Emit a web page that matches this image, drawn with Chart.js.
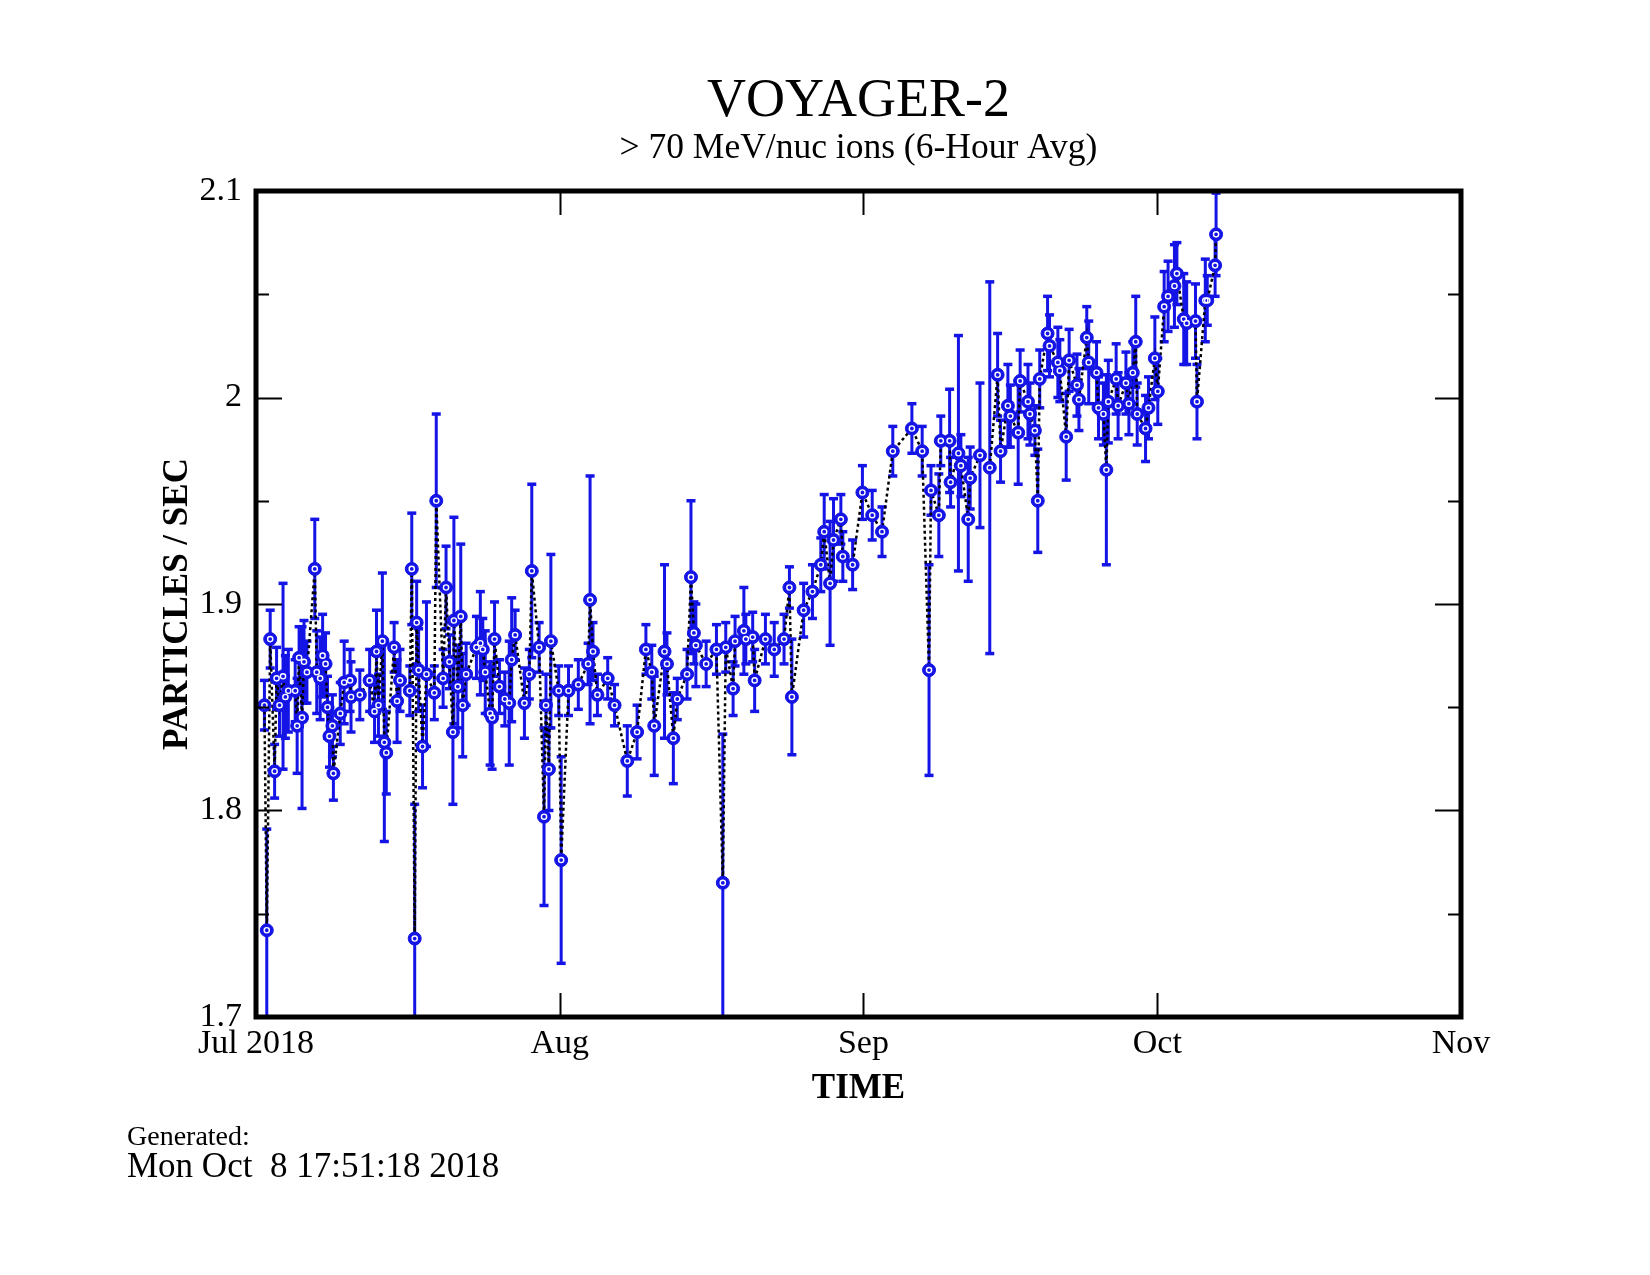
<!DOCTYPE html>
<html>
<head>
<meta charset="utf-8">
<title>VOYAGER-2</title>
<script src="https://cdn.jsdelivr.net/npm/chart.js@4.4.0/dist/chart.umd.min.js"></script>
<style>
    html, body { margin: 0; padding: 0; background: #fff; }
    #wrap { width: 1650px; height: 1275px; }
</style>
</head>
<body>
<div id="wrap"><canvas id="voyagerChart" width="1650" height="1275"></canvas></div>
<script>
// Days since Jul 1 2018 for each 6-hour average
const days = [
    0.86, 1.1, 1.45, 1.9, 2.1, 2.4, 2.76, 3.0, 3.3, 4.0,
    4.2, 4.4, 4.7, 4.9, 5.2, 6.0, 6.2, 6.55, 6.8, 7.1,
    7.3, 7.5, 7.8, 7.9, 8.6, 9.0, 9.6, 9.7, 10.6, 11.6,
    12.1, 12.3, 12.5, 12.9, 13.1, 13.3, 14.1, 14.4, 14.7, 15.7,
    15.9, 16.2, 16.4, 16.6, 17.0, 17.4, 18.2, 18.4, 19.1, 19.4,
    19.75, 20.1, 20.2, 20.6, 20.9, 21.1, 21.45, 22.5, 22.9, 23.15,
    23.4, 23.9, 24.1, 24.35, 24.85, 25.4, 25.85, 26.1, 26.45, 27.4,
    27.9, 28.15, 28.9, 29.4, 29.6, 29.9, 30.1, 30.9, 31.15, 31.9,
    32.9, 33.9, 34.1, 34.4, 34.85, 35.9, 36.6, 37.9, 38.9, 39.8,
    40.4, 40.65, 41.7, 41.95, 42.6, 43.0, 44.0, 44.4, 44.7, 44.9,
    45.95, 47.0, 47.65, 47.95, 48.7, 48.9, 49.8, 50.0, 50.7, 50.9,
    52.0, 52.9, 53.9, 54.45, 54.7, 55.9, 56.8, 57.65, 58.0, 58.6,
    58.95, 59.7, 59.9, 60.9, 61.9, 62.9, 63.9, 65.0, 66.95, 68.0,
    68.7, 68.9, 69.7, 69.9, 70.8, 70.9, 71.7, 71.95, 72.7, 72.9,
    73.9, 74.9, 75.7, 76.0, 76.75, 77.0, 77.8, 78.0, 78.8, 79.0,
    79.5, 79.8, 80.0, 80.8, 81.0, 81.85, 82.05, 82.7, 83.0, 83.8,
    84.0, 84.8, 85.0, 85.8, 86.0, 86.5, 86.8, 87.0, 87.8, 88.0,
    88.8, 89.1, 89.5, 89.8, 89.95, 90.8, 91.1, 91.75, 92.05, 92.7,
    93.1, 93.75, 94.0, 94.7, 95.0, 95.9, 96.05, 96.9, 97.1, 97.9,
    98.0
];

// Count rate (particles / sec)
const rates = [
    1.851, 1.742, 1.883, 1.819, 1.864, 1.851, 1.865, 1.855, 1.858, 1.858,
    1.841, 1.874, 1.845, 1.872, 1.867, 1.917, 1.867, 1.864, 1.875, 1.871,
    1.850, 1.836, 1.841, 1.818, 1.847, 1.862, 1.863, 1.855, 1.856, 1.863,
    1.848, 1.877, 1.851, 1.882, 1.833, 1.828, 1.879, 1.853, 1.863, 1.858,
    1.917, 1.738, 1.891, 1.868, 1.831, 1.866, 1.857, 1.950, 1.864, 1.908,
    1.872, 1.838, 1.892, 1.860, 1.894, 1.851, 1.866, 1.879, 1.881, 1.878,
    1.867, 1.847, 1.845, 1.883, 1.860, 1.854, 1.852, 1.873, 1.885, 1.852,
    1.866, 1.916, 1.879, 1.797, 1.851, 1.820, 1.882, 1.858, 1.776, 1.858,
    1.861, 1.871, 1.902, 1.877, 1.856, 1.864, 1.851, 1.824, 1.838, 1.878,
    1.867, 1.841, 1.877, 1.871, 1.835, 1.854, 1.866, 1.913, 1.886, 1.880,
    1.871, 1.878, 1.765, 1.879, 1.859, 1.882, 1.887, 1.883, 1.884, 1.863,
    1.883, 1.878, 1.883, 1.908, 1.855, 1.897, 1.906, 1.919, 1.935, 1.910,
    1.931, 1.941, 1.923, 1.919, 1.954, 1.943, 1.935, 1.974, 1.985, 1.974,
    1.868, 1.955, 1.943, 1.979, 1.979, 1.959, 1.973, 1.967, 1.941, 1.961,
    1.972, 1.966, 2.011, 1.974, 1.996, 1.991, 1.983, 2.008, 1.998, 1.992,
    1.984, 1.950, 2.009, 2.031, 2.025, 2.017, 2.013, 1.981, 2.018, 2.006,
    1.999, 2.029, 2.017, 2.012, 1.995, 1.992, 1.965, 1.998, 2.009, 1.996,
    2.007, 1.997, 2.012, 2.027, 1.992, 1.985, 1.995, 2.019, 2.003, 2.044,
    2.049, 2.054, 2.060, 2.038, 2.036, 2.037, 1.998, 2.047, 2.047, 2.064,
    2.079
];

// Half-length of each error bar
const errors = [
    0.012, 0.049, 0.014, 0.013, 0.015, 0.015, 0.045, 0.020, 0.020, 0.015,
    0.023, 0.015, 0.044, 0.020, 0.015, 0.024, 0.020, 0.020, 0.020, 0.015,
    0.015, 0.015, 0.015, 0.013, 0.015, 0.020, 0.015, 0.017, 0.012, 0.015,
    0.015, 0.020, 0.015, 0.033, 0.048, 0.020, 0.012, 0.020, 0.015, 0.012,
    0.027, 0.065, 0.020, 0.020, 0.020, 0.035, 0.013, 0.042, 0.014, 0.020,
    0.013, 0.035, 0.050, 0.020, 0.035, 0.025, 0.015, 0.015, 0.025, 0.015,
    0.020, 0.025, 0.025, 0.018, 0.013, 0.013, 0.030, 0.030, 0.012, 0.017,
    0.012, 0.042, 0.012, 0.043, 0.015, 0.020, 0.042, 0.012, 0.050, 0.012,
    0.012, 0.010, 0.060, 0.014, 0.010, 0.010, 0.010, 0.017, 0.013, 0.012,
    0.013, 0.024, 0.042, 0.015, 0.022, 0.010, 0.012, 0.037, 0.015, 0.020,
    0.011, 0.012, 0.072, 0.012, 0.013, 0.012, 0.021, 0.012, 0.012, 0.015,
    0.012, 0.013, 0.012, 0.010, 0.028, 0.013, 0.013, 0.013, 0.018, 0.030,
    0.020, 0.012, 0.012, 0.012, 0.013, 0.012, 0.012, 0.012, 0.012, 0.012,
    0.051, 0.012, 0.020, 0.012, 0.025, 0.012, 0.057, 0.015, 0.030, 0.015,
    0.035, 0.090, 0.020, 0.015, 0.020, 0.015, 0.025, 0.015, 0.018, 0.015,
    0.012, 0.025, 0.014, 0.018, 0.015, 0.017, 0.015, 0.021, 0.015, 0.015,
    0.015, 0.015, 0.020, 0.015, 0.015, 0.015, 0.046, 0.020, 0.017, 0.016,
    0.015, 0.015, 0.015, 0.022, 0.015, 0.016, 0.015, 0.020, 0.016, 0.017,
    0.017, 0.020, 0.015, 0.022, 0.020, 0.018, 0.018, 0.020, 0.012, 0.015,
    0.020
];

const monthDays = [0, 31, 62, 92, 123];
const monthLabels = ['Jul 2018', 'Aug', 'Sep', 'Oct', 'Nov'];
const yMajor = [1.7, 1.8, 1.9, 2.0, 2.1];
const yMajorLabels = ['1.7', '1.8', '1.9', '2', '2.1'];
const yMinor = [1.75, 1.85, 1.95, 2.05];

const BLUE = '#1414e6';
const SERIF = '"Liberation Serif", "Times New Roman", serif';

const points = days.map((d, i) => ({x: d, y: rates[i]}));

// vertical error segments, separated by gaps
const errSegments = [];
const errCaps = [];
days.forEach((d, i) => {
    const lo = rates[i] - errors[i];
    const hi = rates[i] + errors[i];
    errSegments.push({x: d, y: lo}, {x: d, y: hi}, {x: d, y: null});
    errCaps.push({x: d, y: lo}, {x: d, y: hi});
});

// frame, inward ticks and the texts around the plot
const framePlugin = {
    id: 'frameAndText',
    afterDraw(chart) {
        const {ctx, chartArea: a, scales} = chart;
        const xs = scales.x, ys = scales.y;
        ctx.save();
        ctx.strokeStyle = '#000';

        ctx.lineWidth = 2;
        monthDays.slice(1, -1).forEach(v => {
            const px = Math.round(xs.getPixelForValue(v)) + 0.5;
            ctx.beginPath();
            ctx.moveTo(px, a.bottom); ctx.lineTo(px, a.bottom - 24);
            ctx.moveTo(px, a.top); ctx.lineTo(px, a.top + 24);
            ctx.stroke();
        });
        const yTick = (v, len) => {
            const py = Math.round(ys.getPixelForValue(v)) + 0.5;
            ctx.beginPath();
            ctx.moveTo(a.left, py); ctx.lineTo(a.left + len, py);
            ctx.moveTo(a.right, py); ctx.lineTo(a.right - len, py);
            ctx.stroke();
        };
        yMajor.forEach(v => yTick(v, 26));
        yMinor.forEach(v => yTick(v, 13));

        ctx.lineWidth = 5;
        ctx.strokeRect(a.left, a.top, a.right - a.left, a.bottom - a.top);

        const cx = (a.left + a.right) / 2;
        ctx.fillStyle = '#000';
        ctx.textAlign = 'center';
        ctx.textBaseline = 'alphabetic';
        ctx.font = '54px ' + SERIF;
        ctx.fillText('VOYAGER-2', cx, 116);
        ctx.font = '35.5px ' + SERIF;
        ctx.fillText('> 70 MeV/nuc ions (6-Hour Avg)', cx, 158);

        ctx.font = 'bold 35px ' + SERIF;
        ctx.fillText('TIME', cx, 1098);

        ctx.save();
        ctx.translate(187, (a.top + a.bottom) / 2);
        ctx.rotate(-Math.PI / 2);
        ctx.fillText('PARTICLES / SEC', 0, 0);
        ctx.restore();

        ctx.textAlign = 'left';
        ctx.font = '28px ' + SERIF;
        ctx.fillText('Generated:', 127, 1145);
        ctx.font = '35px ' + SERIF;
        ctx.fillText('Mon Oct  8 17:51:18 2018', 127, 1177);
        ctx.restore();
    }
};

new Chart(document.getElementById('voyagerChart'), {
    type: 'scatter',
    data: {
        datasets: [
            {
                // small white ring inside each marker
                data: points,
                pointStyle: 'circle',
                pointRadius: 2.6,
                backgroundColor: 'rgba(0,0,0,0)',
                borderColor: '#ffffff',
                borderWidth: 1.4,
                order: 0
            },
            {
                data: points,
                pointStyle: 'circle',
                pointRadius: 6.5,
                backgroundColor: BLUE,
                borderColor: BLUE,
                borderWidth: 1,
                order: 1
            },
            {
                data: points,
                showLine: true,
                pointRadius: 0,
                borderColor: '#000',
                borderWidth: 2.5,
                borderDash: [3, 3],
                order: 2
            },
            {
                data: errSegments,
                showLine: true,
                spanGaps: false,
                pointRadius: 0,
                borderColor: BLUE,
                borderWidth: 3,
                clip: 0,
                order: 3
            },
            {
                data: errCaps,
                pointStyle: 'line',
                pointRadius: 4.5,
                borderColor: BLUE,
                borderWidth: 3.5,
                order: 3
            }
        ]
    },
    options: {
        responsive: false,
        animation: false,
        devicePixelRatio: 1,
        events: [],
        layout: {
            padding: {left: 0, right: 189, top: 191, bottom: 0}
        },
        plugins: {
            legend: {display: false},
            tooltip: {enabled: false}
        },
        scales: {
            x: {
                type: 'linear',
                min: 0,
                max: 123,
                grid: {display: false, drawTicks: false},
                border: {display: false},
                afterBuildTicks: s => { s.ticks = monthDays.map(v => ({value: v})); },
                afterFit: s => { s.height = 258; },
                ticks: {
                    autoSkip: false,
                    maxRotation: 0,
                    padding: 7,
                    color: '#000',
                    font: {family: SERIF, size: 34},
                    callback: v => monthLabels[monthDays.indexOf(v)]
                }
            },
            y: {
                min: 1.7,
                max: 2.1,
                grid: {display: false, drawTicks: false},
                border: {display: false},
                afterBuildTicks: s => { s.ticks = yMajor.map(v => ({value: v})); },
                afterFit: s => { s.width = 256; },
                ticks: {
                    padding: 14,
                    color: '#000',
                    font: {family: SERIF, size: 34},
                    callback: v => yMajorLabels[yMajor.indexOf(v)]
                }
            }
        }
    },
    plugins: [framePlugin]
});
</script>
</body>
</html>
